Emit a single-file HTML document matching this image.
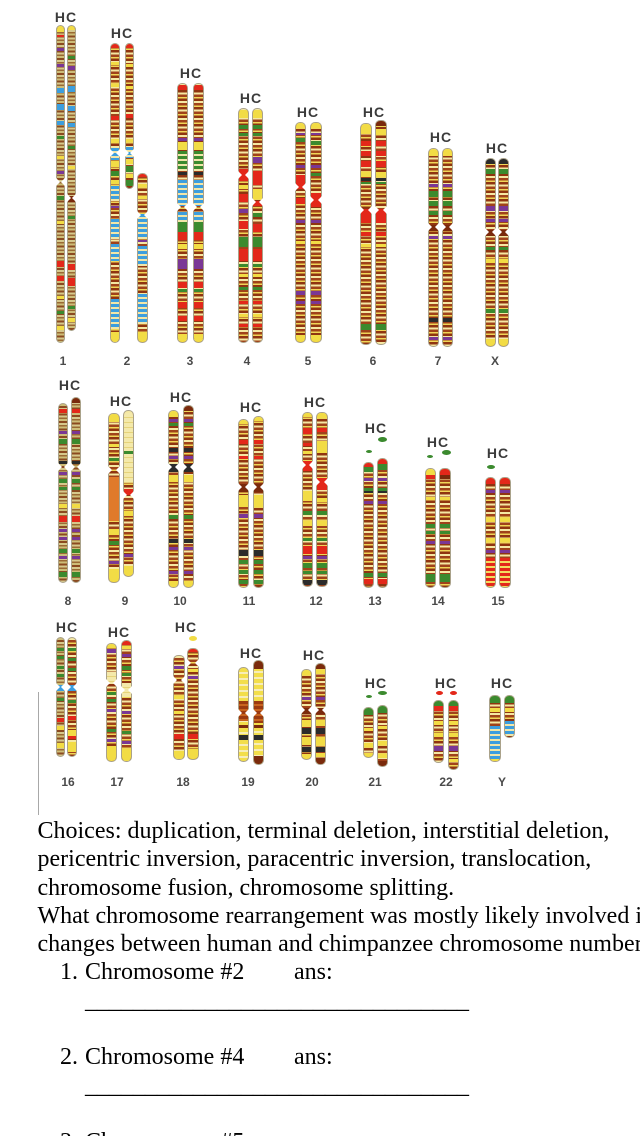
<!DOCTYPE html>
<html><head><meta charset="utf-8">
<style>
html{overflow:hidden;width:640px;height:1136px}
body{margin:0;width:640px;height:1136px;overflow:hidden;background:#fff;position:relative;font-family:"Liberation Serif",serif}
.c{position:absolute;box-sizing:border-box;border:1px solid #aaa28a;border-radius:5px;overflow:hidden;background:repeating-linear-gradient(180deg,#f5e8a2 0 2px,#a0421a 2px 4.5px,#f0d658 4.5px 6px,#8f3410 6px 8.5px)}
.c.k{background:repeating-linear-gradient(180deg,#cdbd78 0 2px,#8b4a20 2px 4px,#d6c88c 4px 6px,#9a6a34 6px 7.5px)}
.c.yb{background:repeating-linear-gradient(180deg,#f3de4a 0 4px,#f7edb8 4px 6px)}
.c i{position:absolute;left:0;right:0;display:block}
.Y{background:#f2dc45}.R{background:#e3281a}.G{background:#3b8a2e}.V{background:#7a3795}
.L{background:#3c9ede}.K{background:#2b2b2b}.O{background:#e07a2a}.D{background:#7a2a0c}
.Lb{background:repeating-linear-gradient(180deg,#3c9ede 0 3px,#f1e6a8 3px 5px)}
.Rb{background:repeating-linear-gradient(180deg,#e3281a 0 3px,#f3dd60 3px 5px)}
.Gb{background:repeating-linear-gradient(180deg,#3b8a2e 0 3px,#f1e6a8 3px 5px)}
.Pb{background:repeating-linear-gradient(180deg,#f4e9aa 0 4px,#e6d37a 4px 5px)}
.Bb{background:repeating-linear-gradient(180deg,#9b3a10 0 3px,#c8641e 3px 5px)}
.n{position:absolute;height:0;border-left:4px solid #fff;border-right:4px solid #fff;border-top:4px solid transparent;border-bottom:4px solid transparent}
.s{position:absolute;border-radius:50%}
.h{position:absolute;width:40px;text-align:center;font:bold 14px/16px "Liberation Sans",sans-serif;color:#3b3b3b;letter-spacing:1px}
.m{position:absolute;width:30px;text-align:center;font:bold 12px/14px "Liberation Sans",sans-serif;color:#4a4a4a}
.txt{position:absolute;left:0;top:817px;width:640px;height:319px;overflow:hidden;font-size:24px;line-height:28.3px;color:#000}
.ln{position:relative;height:28.3px;white-space:nowrap}
.a{position:absolute;top:0}
.vl{position:absolute;left:38px;top:692px;width:1px;height:123px;background:#a8a8a8}
</style></head><body>

<!-- Row 1 -->
<div class="c k" style="left:56px;top:25px;width:9px;height:318px">
<i class="Y" style="top:0;height:6px"></i><i class="R" style="top:9px;height:2px"></i><i class="V" style="top:22px;height:3px"></i><i class="V" style="top:38px;height:3px"></i><i class="L" style="top:62px;height:5px"></i><i class="L" style="top:78px;height:6px"></i><i class="L" style="top:95px;height:4px"></i><i class="G" style="top:110px;height:3px"></i><i class="Y" style="top:130px;height:3px"></i><i class="V" style="top:145px;height:3px"></i><i class="G" style="top:170px;height:4px"></i><i class="Y" style="top:195px;height:3px"></i><i class="R" style="top:235px;height:6px"></i><i class="R" style="top:250px;height:5px"></i><i class="Y" style="top:270px;height:3px"></i><i class="G" style="top:285px;height:3px"></i><i class="Y" style="top:300px;height:4px"></i>
</div>
<div class="c k" style="left:67px;top:25px;width:9px;height:306px">
<i class="Y" style="top:0;height:4px"></i><i class="G" style="top:30px;height:3px"></i><i class="V" style="top:40px;height:4px"></i><i class="L" style="top:60px;height:6px"></i><i class="L" style="top:80px;height:5px"></i><i class="L" style="top:97px;height:4px"></i><i class="G" style="top:120px;height:3px"></i><i class="Y" style="top:140px;height:3px"></i><i class="D" style="top:170px;height:6px"></i><i class="G" style="top:190px;height:3px"></i><i class="R" style="top:238px;height:6px"></i><i class="R" style="top:252px;height:8px"></i><i class="G" style="top:280px;height:3px"></i><i class="Y" style="top:292px;height:4px"></i>
</div>

<div class="c" style="left:110px;top:43px;width:10px;height:300px">
<i class="R" style="top:0;height:4px"></i><i class="Y" style="top:18px;height:3px"></i><i class="Y" style="top:40px;height:3px"></i><i class="R" style="top:72px;height:4px"></i><i class="Y" style="top:95px;height:4px"></i><i class="Lb" style="top:104px;height:12px"></i><i class="Y" style="top:117px;height:6px"></i><i class="G" style="top:127px;height:5px"></i><i class="Y" style="top:136px;height:4px"></i><i class="Lb" style="top:142px;height:15px"></i><i class="V" style="top:162px;height:2px"></i><i class="Lb" style="top:175px;height:20px"></i><i class="Lb" style="top:200px;height:17px"></i><i class="Lb" style="top:255px;height:30px"></i><i class="Y" style="top:288px;height:12px"></i>
</div>
<div class="c" style="left:125px;top:43px;width:9px;height:146px">
<i class="R" style="top:0;height:4px"></i><i class="Y" style="top:20px;height:3px"></i><i class="Y" style="top:42px;height:3px"></i><i class="R" style="top:70px;height:4px"></i><i class="Y" style="top:95px;height:3px"></i><i class="Lb" style="top:103px;height:11px"></i><i class="Y" style="top:116px;height:4px"></i><i class="G" style="top:122px;height:6px"></i><i class="Y" style="top:130px;height:4px"></i><i class="G" style="top:136px;height:6px"></i>
</div>
<div class="c" style="left:137px;top:173px;width:11px;height:170px">
<i class="R" style="top:0;height:3px"></i><i class="Y" style="top:10px;height:3px"></i><i class="Y" style="top:22px;height:3px"></i><i class="Lb" style="top:40px;height:25px"></i><i class="V" style="top:66px;height:2px"></i><i class="Lb" style="top:72px;height:20px"></i><i class="Lb" style="top:120px;height:30px"></i><i class="Y" style="top:158px;height:12px"></i>
</div>

<div class="c" style="left:177px;top:83px;width:11px;height:260px">
<i class="R" style="top:1px;height:5px"></i><i class="V" style="top:54px;height:3px"></i><i class="Y" style="top:58px;height:8px"></i><i class="Gb" style="top:67px;height:20px"></i><i class="K" style="top:88px;height:3px"></i><i class="Lb" style="top:96px;height:26px"></i><i class="Lb" style="top:128px;height:10px"></i><i class="G" style="top:138px;height:10px"></i><i class="R" style="top:148px;height:8px"></i><i class="Y" style="top:160px;height:5px"></i><i class="V" style="top:175px;height:10px"></i><i class="R" style="top:198px;height:6px"></i><i class="G" style="top:205px;height:3px"></i><i class="R" style="top:218px;height:6px"></i><i class="R" style="top:232px;height:5px"></i><i class="Y" style="top:250px;height:10px"></i>
</div>
<div class="c" style="left:193px;top:83px;width:11px;height:260px">
<i class="R" style="top:1px;height:5px"></i><i class="V" style="top:54px;height:3px"></i><i class="Y" style="top:58px;height:8px"></i><i class="Gb" style="top:67px;height:20px"></i><i class="K" style="top:88px;height:3px"></i><i class="Lb" style="top:96px;height:26px"></i><i class="Lb" style="top:128px;height:10px"></i><i class="G" style="top:138px;height:10px"></i><i class="R" style="top:148px;height:8px"></i><i class="Y" style="top:160px;height:5px"></i><i class="V" style="top:175px;height:10px"></i><i class="R" style="top:198px;height:6px"></i><i class="G" style="top:205px;height:3px"></i><i class="R" style="top:218px;height:6px"></i><i class="R" style="top:232px;height:5px"></i><i class="Y" style="top:250px;height:10px"></i>
</div>

<div class="c" style="left:238px;top:108px;width:11px;height:235px">
<i class="Y" style="top:1px;height:8px"></i><i class="G" style="top:16px;height:4px"></i><i class="G" style="top:24px;height:3px"></i><i class="R" style="top:60px;height:12px"></i><i class="Y" style="top:76px;height:4px"></i><i class="R" style="top:85px;height:8px"></i><i class="V" style="top:100px;height:4px"></i><i class="R" style="top:112px;height:8px"></i><i class="G" style="top:128px;height:10px"></i><i class="R" style="top:140px;height:12px"></i><i class="G" style="top:155px;height:3px"></i><i class="Y" style="top:165px;height:3px"></i><i class="G" style="top:178px;height:3px"></i><i class="R" style="top:192px;height:3px"></i><i class="Y" style="top:205px;height:3px"></i><i class="R" style="top:215px;height:3px"></i>
</div>
<div class="c" style="left:252px;top:108px;width:11px;height:235px">
<i class="Y" style="top:1px;height:8px"></i><i class="G" style="top:16px;height:4px"></i><i class="G" style="top:24px;height:3px"></i><i class="V" style="top:48px;height:6px"></i><i class="R" style="top:62px;height:14px"></i><i class="Y" style="top:80px;height:10px"></i><i class="R" style="top:92px;height:5px"></i><i class="G" style="top:104px;height:4px"></i><i class="R" style="top:115px;height:8px"></i><i class="G" style="top:128px;height:10px"></i><i class="R" style="top:140px;height:12px"></i><i class="G" style="top:155px;height:3px"></i><i class="Y" style="top:165px;height:3px"></i><i class="G" style="top:178px;height:3px"></i><i class="R" style="top:192px;height:3px"></i><i class="Y" style="top:205px;height:3px"></i><i class="R" style="top:215px;height:3px"></i>
</div>

<div class="c" style="left:295px;top:122px;width:11px;height:221px">
<i class="Y" style="top:0;height:5px"></i><i class="V" style="top:10px;height:2px"></i><i class="G" style="top:15px;height:4px"></i><i class="V" style="top:42px;height:3px"></i><i class="R" style="top:52px;height:14px"></i><i class="R" style="top:75px;height:6px"></i><i class="V" style="top:97px;height:3px"></i><i class="Y" style="top:118px;height:3px"></i><i class="V" style="top:168px;height:4px"></i><i class="V" style="top:178px;height:3px"></i><i class="Y" style="top:212px;height:9px"></i>
</div>
<div class="c" style="left:310px;top:122px;width:12px;height:221px">
<i class="Y" style="top:0;height:5px"></i><i class="V" style="top:10px;height:2px"></i><i class="G" style="top:18px;height:4px"></i><i class="V" style="top:42px;height:3px"></i><i class="G" style="top:50px;height:3px"></i><i class="R" style="top:70px;height:14px"></i><i class="V" style="top:97px;height:3px"></i><i class="Y" style="top:118px;height:3px"></i><i class="V" style="top:168px;height:4px"></i><i class="V" style="top:178px;height:3px"></i><i class="Y" style="top:212px;height:9px"></i>
</div>

<div class="c" style="left:360px;top:123px;width:12px;height:222px">
<i class="Y" style="top:0;height:10px"></i><i class="R" style="top:17px;height:5px"></i><i class="R" style="top:27px;height:5px"></i><i class="R" style="top:37px;height:6px"></i><i class="Y" style="top:48px;height:5px"></i><i class="K" style="top:54px;height:3px"></i><i class="G" style="top:58px;height:2px"></i><i class="R" style="top:85px;height:14px"></i><i class="R" style="top:108px;height:4px"></i><i class="Y" style="top:120px;height:3px"></i><i class="G" style="top:200px;height:6px"></i>
</div>
<div class="c" style="left:375px;top:120px;width:12px;height:225px">
<i class="D" style="top:0;height:5px"></i><i class="Y" style="top:8px;height:6px"></i><i class="R" style="top:20px;height:5px"></i><i class="R" style="top:30px;height:5px"></i><i class="R" style="top:40px;height:6px"></i><i class="Y" style="top:51px;height:5px"></i><i class="K" style="top:57px;height:3px"></i><i class="G" style="top:61px;height:2px"></i><i class="R" style="top:88px;height:14px"></i><i class="R" style="top:111px;height:4px"></i><i class="Y" style="top:123px;height:3px"></i><i class="G" style="top:203px;height:6px"></i>
</div>

<div class="c" style="left:428px;top:148px;width:11px;height:199px">
<i class="Y" style="top:0;height:7px"></i><i class="V" style="top:35px;height:3px"></i><i class="G" style="top:42px;height:6px"></i><i class="G" style="top:52px;height:5px"></i><i class="G" style="top:62px;height:4px"></i><i class="D" style="top:76px;height:6px"></i><i class="V" style="top:87px;height:3px"></i><i class="K" style="top:169px;height:4px"></i><i class="V" style="top:188px;height:3px"></i>
</div>
<div class="c" style="left:442px;top:148px;width:11px;height:199px">
<i class="Y" style="top:0;height:7px"></i><i class="V" style="top:35px;height:3px"></i><i class="G" style="top:42px;height:6px"></i><i class="G" style="top:52px;height:5px"></i><i class="G" style="top:62px;height:4px"></i><i class="D" style="top:76px;height:6px"></i><i class="V" style="top:87px;height:3px"></i><i class="K" style="top:169px;height:4px"></i><i class="V" style="top:188px;height:3px"></i>
</div>

<div class="c" style="left:485px;top:158px;width:11px;height:189px">
<i class="K" style="top:0;height:5px"></i><i class="G" style="top:10px;height:5px"></i><i class="V" style="top:47px;height:5px"></i><i class="V" style="top:60px;height:3px"></i><i class="D" style="top:71px;height:6px"></i><i class="G" style="top:88px;height:3px"></i><i class="Y" style="top:100px;height:4px"></i><i class="G" style="top:150px;height:4px"></i><i class="Y" style="top:180px;height:9px"></i>
</div>
<div class="c" style="left:498px;top:158px;width:11px;height:189px">
<i class="K" style="top:0;height:5px"></i><i class="G" style="top:10px;height:5px"></i><i class="V" style="top:47px;height:5px"></i><i class="V" style="top:60px;height:3px"></i><i class="D" style="top:71px;height:6px"></i><i class="G" style="top:88px;height:3px"></i><i class="Y" style="top:100px;height:4px"></i><i class="G" style="top:150px;height:4px"></i><i class="Y" style="top:180px;height:9px"></i>
</div>

<!-- Row 2 -->
<div class="c k" style="left:58px;top:403px;width:10px;height:180px">
<i class="R" style="top:5px;height:4px"></i><i class="V" style="top:27px;height:3px"></i><i class="G" style="top:35px;height:5px"></i><i class="K" style="top:57px;height:3px"></i><i class="V" style="top:68px;height:3px"></i><i class="G" style="top:75px;height:4px"></i><i class="G" style="top:83px;height:3px"></i><i class="Y" style="top:100px;height:4px"></i><i class="R" style="top:112px;height:6px"></i><i class="V" style="top:125px;height:3px"></i><i class="V" style="top:133px;height:3px"></i><i class="G" style="top:145px;height:4px"></i><i class="V" style="top:152px;height:3px"></i><i class="G" style="top:168px;height:5px"></i>
</div>
<div class="c k" style="left:71px;top:397px;width:10px;height:186px">
<i class="D" style="top:0;height:5px"></i><i class="R" style="top:11px;height:4px"></i><i class="V" style="top:33px;height:3px"></i><i class="G" style="top:41px;height:5px"></i><i class="K" style="top:63px;height:3px"></i><i class="V" style="top:74px;height:3px"></i><i class="G" style="top:81px;height:4px"></i><i class="G" style="top:89px;height:3px"></i><i class="Y" style="top:106px;height:4px"></i><i class="R" style="top:118px;height:6px"></i><i class="V" style="top:131px;height:3px"></i><i class="V" style="top:139px;height:3px"></i><i class="G" style="top:151px;height:4px"></i><i class="V" style="top:158px;height:3px"></i><i class="G" style="top:174px;height:5px"></i>
</div>

<div class="c" style="left:108px;top:413px;width:12px;height:170px">
<i class="Y" style="top:0;height:8px"></i><i class="Y" style="top:30px;height:3px"></i><i class="G" style="top:44px;height:3px"></i><i class="O" style="top:63px;height:44px"></i><i class="Y" style="top:115px;height:6px"></i><i class="G" style="top:127px;height:4px"></i><i class="V" style="top:147px;height:3px"></i><i class="Y" style="top:155px;height:15px"></i>
</div>
<div class="c" style="left:123px;top:410px;width:11px;height:167px">
<i class="Pb" style="top:2px;height:70px"></i><i class="G" style="top:40px;height:3px"></i><i class="R" style="top:78px;height:6px"></i><i class="Y" style="top:100px;height:5px"></i><i class="V" style="top:143px;height:3px"></i><i class="Y" style="top:155px;height:12px"></i>
</div>

<div class="c" style="left:168px;top:410px;width:11px;height:178px">
<i class="Y" style="top:0;height:6px"></i><i class="V" style="top:8px;height:3px"></i><i class="G" style="top:12px;height:3px"></i><i class="K" style="top:37px;height:4px"></i><i class="V" style="top:45px;height:3px"></i><i class="K" style="top:53px;height:8px"></i><i class="Y" style="top:64px;height:7px"></i><i class="G" style="top:104px;height:4px"></i><i class="K" style="top:128px;height:4px"></i><i class="V" style="top:136px;height:3px"></i><i class="V" style="top:160px;height:3px"></i><i class="Y" style="top:170px;height:8px"></i>
</div>
<div class="c" style="left:183px;top:405px;width:11px;height:183px">
<i class="D" style="top:0;height:5px"></i><i class="V" style="top:13px;height:3px"></i><i class="G" style="top:17px;height:3px"></i><i class="K" style="top:42px;height:4px"></i><i class="V" style="top:50px;height:3px"></i><i class="K" style="top:58px;height:8px"></i><i class="Y" style="top:69px;height:7px"></i><i class="G" style="top:109px;height:4px"></i><i class="K" style="top:133px;height:4px"></i><i class="V" style="top:141px;height:3px"></i><i class="V" style="top:165px;height:3px"></i><i class="Y" style="top:175px;height:8px"></i>
</div>

<div class="c" style="left:238px;top:419px;width:11px;height:169px">
<i class="Y" style="top:0;height:4px"></i><i class="R" style="top:20px;height:4px"></i><i class="R" style="top:36px;height:3px"></i><i class="D" style="top:64px;height:8px"></i><i class="Y" style="top:75px;height:12px"></i><i class="V" style="top:94px;height:4px"></i><i class="K" style="top:130px;height:6px"></i><i class="G" style="top:140px;height:4px"></i><i class="G" style="top:150px;height:4px"></i><i class="G" style="top:160px;height:4px"></i>
</div>
<div class="c" style="left:253px;top:416px;width:11px;height:172px">
<i class="Y" style="top:0;height:4px"></i><i class="R" style="top:23px;height:4px"></i><i class="R" style="top:39px;height:3px"></i><i class="D" style="top:67px;height:8px"></i><i class="Y" style="top:78px;height:12px"></i><i class="V" style="top:97px;height:4px"></i><i class="K" style="top:133px;height:6px"></i><i class="G" style="top:143px;height:4px"></i><i class="G" style="top:153px;height:4px"></i><i class="G" style="top:163px;height:4px"></i>
</div>

<div class="c" style="left:302px;top:412px;width:11px;height:175px">
<i class="Y" style="top:0;height:4px"></i><i class="R" style="top:15px;height:6px"></i><i class="R" style="top:30px;height:3px"></i><i class="Y" style="top:38px;height:3px"></i><i class="R" style="top:48px;height:10px"></i><i class="Y" style="top:78px;height:10px"></i><i class="G" style="top:98px;height:4px"></i><i class="Y" style="top:108px;height:5px"></i><i class="G" style="top:125px;height:3px"></i><i class="R" style="top:133px;height:8px"></i><i class="V" style="top:143px;height:3px"></i><i class="G" style="top:150px;height:5px"></i><i class="G" style="top:158px;height:3px"></i><i class="K" style="top:167px;height:5px"></i>
</div>
<div class="c" style="left:316px;top:412px;width:12px;height:175px">
<i class="Y" style="top:0;height:5px"></i><i class="R" style="top:15px;height:4px"></i><i class="Y" style="top:28px;height:12px"></i><i class="R" style="top:65px;height:12px"></i><i class="Y" style="top:85px;height:4px"></i><i class="G" style="top:98px;height:4px"></i><i class="Y" style="top:108px;height:5px"></i><i class="G" style="top:125px;height:3px"></i><i class="R" style="top:133px;height:8px"></i><i class="V" style="top:143px;height:3px"></i><i class="G" style="top:150px;height:5px"></i><i class="G" style="top:158px;height:3px"></i><i class="K" style="top:167px;height:5px"></i>
</div>

<div class="c" style="left:363px;top:462px;width:11px;height:126px">
<i class="R" style="top:0;height:4px"></i><i class="G" style="top:4px;height:5px"></i><i class="V" style="top:15px;height:3px"></i><i class="G" style="top:25px;height:3px"></i><i class="K" style="top:28px;height:2px"></i><i class="V" style="top:38px;height:3px"></i><i class="G" style="top:110px;height:4px"></i><i class="R" style="top:116px;height:5px"></i>
</div>
<div class="c" style="left:377px;top:458px;width:11px;height:130px">
<i class="R" style="top:0;height:5px"></i><i class="G" style="top:5px;height:6px"></i><i class="V" style="top:19px;height:3px"></i><i class="G" style="top:29px;height:3px"></i><i class="K" style="top:32px;height:2px"></i><i class="V" style="top:42px;height:3px"></i><i class="G" style="top:114px;height:4px"></i><i class="R" style="top:120px;height:5px"></i>
</div>
<div class="s G" style="left:366px;top:450px;width:6px;height:3px"></div>
<div class="s G" style="left:378px;top:437px;width:9px;height:5px"></div>

<div class="c" style="left:425px;top:468px;width:11px;height:120px">
<i class="Y" style="top:0;height:6px"></i><i class="R" style="top:6px;height:4px"></i><i class="Y" style="top:28px;height:3px"></i><i class="G" style="top:55px;height:4px"></i><i class="G" style="top:62px;height:3px"></i><i class="V" style="top:72px;height:3px"></i><i class="G" style="top:105px;height:8px"></i>
</div>
<div class="c" style="left:439px;top:468px;width:12px;height:120px">
<i class="R" style="top:0;height:6px"></i><i class="D" style="top:6px;height:4px"></i><i class="Y" style="top:28px;height:3px"></i><i class="G" style="top:55px;height:4px"></i><i class="G" style="top:62px;height:3px"></i><i class="V" style="top:72px;height:3px"></i><i class="G" style="top:105px;height:8px"></i>
</div>
<div class="s G" style="left:427px;top:455px;width:6px;height:3px"></div>
<div class="s G" style="left:442px;top:450px;width:9px;height:5px"></div>

<div class="c" style="left:485px;top:477px;width:11px;height:111px">
<i class="R" style="top:0;height:6px"></i><i class="V" style="top:12px;height:3px"></i><i class="Y" style="top:40px;height:4px"></i><i class="Y" style="top:60px;height:4px"></i><i class="V" style="top:72px;height:3px"></i><i class="Rb" style="top:80px;height:31px"></i>
</div>
<div class="c" style="left:499px;top:477px;width:12px;height:111px">
<i class="R" style="top:0;height:6px"></i><i class="V" style="top:12px;height:3px"></i><i class="Y" style="top:40px;height:4px"></i><i class="Y" style="top:60px;height:4px"></i><i class="V" style="top:72px;height:3px"></i><i class="Rb" style="top:80px;height:31px"></i>
</div>
<div class="s G" style="left:487px;top:465px;width:8px;height:4px"></div>

<!-- Row 3 -->
<div class="c k" style="left:56px;top:637px;width:9px;height:120px">
<i class="G" style="top:10px;height:3px"></i><i class="G" style="top:18px;height:3px"></i><i class="G" style="top:28px;height:3px"></i><i class="G" style="top:36px;height:3px"></i><i class="L" style="top:47px;height:6px"></i><i class="G" style="top:60px;height:3px"></i><i class="R" style="top:80px;height:4px"></i><i class="Y" style="top:88px;height:4px"></i><i class="Y" style="top:105px;height:5px"></i>
</div>
<div class="c" style="left:67px;top:637px;width:10px;height:120px">
<i class="G" style="top:10px;height:3px"></i><i class="G" style="top:20px;height:3px"></i><i class="G" style="top:30px;height:3px"></i><i class="L" style="top:47px;height:6px"></i><i class="G" style="top:62px;height:3px"></i><i class="R" style="top:78px;height:4px"></i><i class="Y" style="top:92px;height:6px"></i><i class="R" style="top:98px;height:3px"></i><i class="Y" style="top:104px;height:10px"></i>
</div>

<div class="c" style="left:106px;top:643px;width:11px;height:119px">
<i class="Y" style="top:0;height:4px"></i><i class="V" style="top:5px;height:4px"></i><i class="Pb" style="top:28px;height:12px"></i><i class="G" style="top:48px;height:3px"></i><i class="G" style="top:55px;height:3px"></i><i class="V" style="top:65px;height:3px"></i><i class="G" style="top:85px;height:3px"></i><i class="V" style="top:95px;height:3px"></i><i class="Y" style="top:102px;height:17px"></i>
</div>
<div class="c" style="left:121px;top:640px;width:11px;height:122px">
<i class="R" style="top:0;height:4px"></i><i class="Y" style="top:5px;height:3px"></i><i class="V" style="top:13px;height:3px"></i><i class="G" style="top:25px;height:4px"></i><i class="G" style="top:32px;height:3px"></i><i class="Pb" style="top:42px;height:14px"></i><i class="V" style="top:70px;height:3px"></i><i class="G" style="top:90px;height:3px"></i><i class="V" style="top:100px;height:3px"></i><i class="Y" style="top:108px;height:14px"></i>
</div>

<div class="c" style="left:173px;top:655px;width:12px;height:105px">
<i class="V" style="top:10px;height:3px"></i><i class="Y" style="top:40px;height:3px"></i><i class="Y" style="top:55px;height:3px"></i><i class="R" style="top:78px;height:5px"></i><i class="Y" style="top:95px;height:10px"></i>
</div>
<div class="c" style="left:187px;top:648px;width:12px;height:112px">
<i class="R" style="top:0;height:3px"></i><i class="Y" style="top:20px;height:3px"></i><i class="V" style="top:27px;height:3px"></i><i class="R" style="top:85px;height:5px"></i><i class="Y" style="top:100px;height:12px"></i>
</div>
<div class="s Y" style="left:189px;top:636px;width:8px;height:5px"></div>

<div class="c yb" style="left:238px;top:667px;width:11px;height:95px">
<i class="Bb" style="top:33px;height:20px"></i><i class="D" style="top:57px;height:3px"></i><i class="K" style="top:67px;height:5px"></i>
</div>
<div class="c yb" style="left:253px;top:660px;width:11px;height:105px">
<i class="D" style="top:0;height:8px"></i><i class="Bb" style="top:40px;height:22px"></i><i class="D" style="top:64px;height:3px"></i><i class="K" style="top:74px;height:5px"></i><i class="D" style="top:95px;height:10px"></i>
</div>

<div class="c" style="left:301px;top:669px;width:11px;height:91px">
<i class="Y" style="top:0;height:5px"></i><i class="V" style="top:27px;height:3px"></i><i class="D" style="top:38px;height:6px"></i><i class="Y" style="top:50px;height:6px"></i><i class="K" style="top:58px;height:6px"></i><i class="Y" style="top:67px;height:8px"></i><i class="K" style="top:77px;height:5px"></i><i class="Y" style="top:84px;height:7px"></i>
</div>
<div class="c" style="left:315px;top:663px;width:11px;height:102px">
<i class="D" style="top:0;height:5px"></i><i class="Y" style="top:6px;height:4px"></i><i class="V" style="top:33px;height:3px"></i><i class="D" style="top:44px;height:6px"></i><i class="Y" style="top:56px;height:6px"></i><i class="K" style="top:64px;height:6px"></i><i class="Y" style="top:73px;height:8px"></i><i class="K" style="top:83px;height:5px"></i><i class="Y" style="top:89px;height:4px"></i><i class="D" style="top:94px;height:8px"></i>
</div>

<div class="c" style="left:363px;top:707px;width:11px;height:51px">
<i class="G" style="top:0;height:7px"></i><i class="Y" style="top:20px;height:3px"></i><i class="Y" style="top:35px;height:4px"></i><i class="Y" style="top:45px;height:6px"></i>
</div>
<div class="c" style="left:377px;top:705px;width:11px;height:62px">
<i class="G" style="top:0;height:7px"></i><i class="Y" style="top:20px;height:3px"></i><i class="Y" style="top:35px;height:4px"></i><i class="Y" style="top:48px;height:4px"></i><i class="D" style="top:55px;height:7px"></i>
</div>
<div class="s G" style="left:366px;top:695px;width:6px;height:3px"></div>
<div class="s G" style="left:378px;top:691px;width:9px;height:4px"></div>

<div class="c" style="left:433px;top:700px;width:11px;height:63px">
<i class="G" style="top:0;height:5px"></i><i class="R" style="top:5px;height:5px"></i><i class="Y" style="top:20px;height:4px"></i><i class="Y" style="top:32px;height:4px"></i><i class="V" style="top:45px;height:5px"></i>
</div>
<div class="c" style="left:448px;top:700px;width:11px;height:70px">
<i class="G" style="top:0;height:5px"></i><i class="R" style="top:5px;height:5px"></i><i class="Y" style="top:20px;height:4px"></i><i class="Y" style="top:32px;height:4px"></i><i class="V" style="top:45px;height:5px"></i><i class="Y" style="top:58px;height:3px"></i>
</div>
<div class="s R" style="left:436px;top:691px;width:7px;height:4px"></div>
<div class="s R" style="left:450px;top:691px;width:7px;height:4px"></div>

<div class="c" style="left:489px;top:695px;width:12px;height:67px">
<i class="G" style="top:0;height:7px"></i><i class="Y" style="top:12px;height:4px"></i><i class="Lb" style="top:30px;height:33px"></i><i class="Y" style="top:63px;height:4px"></i>
</div>
<div class="c" style="left:504px;top:695px;width:11px;height:43px">
<i class="G" style="top:0;height:7px"></i><i class="Y" style="top:12px;height:4px"></i><i class="Lb" style="top:25px;height:15px"></i>
</div>

<!-- centromere notches -->
<div class="n" style="left:56px;top:178px;width:1px"></div>
<div class="n" style="left:67px;top:194px;width:1px"></div>
<div class="n" style="left:110px;top:149px;width:2px"></div>
<div class="n" style="left:125px;top:149px;width:1px"></div>
<div class="n" style="left:137px;top:211px;width:3px"></div>
<div class="n" style="left:177px;top:203px;width:3px"></div>
<div class="n" style="left:193px;top:203px;width:3px"></div>
<div class="n" style="left:238px;top:171px;width:3px"></div>
<div class="n" style="left:252px;top:198px;width:3px"></div>
<div class="n" style="left:295px;top:183px;width:3px"></div>
<div class="n" style="left:310px;top:196px;width:4px"></div>
<div class="n" style="left:360px;top:206px;width:4px"></div>
<div class="n" style="left:375px;top:206px;width:4px"></div>
<div class="n" style="left:428px;top:223px;width:3px"></div>
<div class="n" style="left:442px;top:223px;width:3px"></div>
<div class="n" style="left:485px;top:228px;width:3px"></div>
<div class="n" style="left:498px;top:228px;width:3px"></div>
<div class="n" style="left:58px;top:463px;width:2px"></div>
<div class="n" style="left:71px;top:463px;width:2px"></div>
<div class="n" style="left:108px;top:466px;width:4px"></div>
<div class="n" style="left:123px;top:491px;width:3px"></div>
<div class="n" style="left:168px;top:463px;width:3px"></div>
<div class="n" style="left:183px;top:463px;width:3px"></div>
<div class="n" style="left:238px;top:483px;width:3px"></div>
<div class="n" style="left:253px;top:483px;width:3px"></div>
<div class="n" style="left:302px;top:461px;width:3px"></div>
<div class="n" style="left:316px;top:478px;width:4px"></div>
<div class="n" style="left:56px;top:683px;width:1px"></div>
<div class="n" style="left:67px;top:683px;width:2px"></div>
<div class="n" style="left:106px;top:679px;width:3px"></div>
<div class="n" style="left:121px;top:686px;width:3px"></div>
<div class="n" style="left:173px;top:676px;width:4px"></div>
<div class="n" style="left:187px;top:659px;width:4px"></div>
<div class="n" style="left:238px;top:709px;width:3px"></div>
<div class="n" style="left:253px;top:709px;width:3px"></div>
<div class="n" style="left:301px;top:706px;width:3px"></div>
<div class="n" style="left:315px;top:706px;width:3px"></div>

<!-- HC labels -->
<div class="h" style="left:46px;top:9px">HC</div>
<div class="h" style="left:102px;top:25px">HC</div>
<div class="h" style="left:171px;top:65px">HC</div>
<div class="h" style="left:231px;top:90px">HC</div>
<div class="h" style="left:288px;top:104px">HC</div>
<div class="h" style="left:354px;top:104px">HC</div>
<div class="h" style="left:421px;top:129px">HC</div>
<div class="h" style="left:477px;top:140px">HC</div>
<div class="h" style="left:50px;top:377px">HC</div>
<div class="h" style="left:101px;top:393px">HC</div>
<div class="h" style="left:161px;top:389px">HC</div>
<div class="h" style="left:231px;top:399px">HC</div>
<div class="h" style="left:295px;top:394px">HC</div>
<div class="h" style="left:356px;top:420px">HC</div>
<div class="h" style="left:418px;top:434px">HC</div>
<div class="h" style="left:478px;top:445px">HC</div>
<div class="h" style="left:47px;top:619px">HC</div>
<div class="h" style="left:99px;top:624px">HC</div>
<div class="h" style="left:166px;top:619px">HC</div>
<div class="h" style="left:231px;top:645px">HC</div>
<div class="h" style="left:294px;top:647px">HC</div>
<div class="h" style="left:356px;top:675px">HC</div>
<div class="h" style="left:426px;top:675px">HC</div>
<div class="h" style="left:482px;top:675px">HC</div>

<!-- numbers -->
<div class="m" style="left:48px;top:354px">1</div>
<div class="m" style="left:112px;top:354px">2</div>
<div class="m" style="left:175px;top:354px">3</div>
<div class="m" style="left:232px;top:354px">4</div>
<div class="m" style="left:293px;top:354px">5</div>
<div class="m" style="left:358px;top:354px">6</div>
<div class="m" style="left:423px;top:354px">7</div>
<div class="m" style="left:480px;top:354px">X</div>
<div class="m" style="left:53px;top:594px">8</div>
<div class="m" style="left:110px;top:594px">9</div>
<div class="m" style="left:165px;top:594px">10</div>
<div class="m" style="left:234px;top:594px">11</div>
<div class="m" style="left:301px;top:594px">12</div>
<div class="m" style="left:360px;top:594px">13</div>
<div class="m" style="left:423px;top:594px">14</div>
<div class="m" style="left:483px;top:594px">15</div>
<div class="m" style="left:53px;top:775px">16</div>
<div class="m" style="left:102px;top:775px">17</div>
<div class="m" style="left:168px;top:775px">18</div>
<div class="m" style="left:233px;top:775px">19</div>
<div class="m" style="left:297px;top:775px">20</div>
<div class="m" style="left:360px;top:775px">21</div>
<div class="m" style="left:431px;top:775px">22</div>
<div class="m" style="left:487px;top:775px">Y</div>

<div class="vl"></div>

<!-- text -->
<div class="txt">
<div class="ln"><span class="a" style="left:37.5px">Choices: duplication, terminal deletion, interstitial deletion,</span></div>
<div class="ln"><span class="a" style="left:37.5px">pericentric inversion, paracentric inversion, translocation,</span></div>
<div class="ln"><span class="a" style="left:37.5px">chromosome fusion, chromosome splitting.</span></div>
<div class="ln"><span class="a" style="left:37.5px">What chromosome rearrangement was mostly likely involved in the</span></div>
<div class="ln"><span class="a" style="left:37.5px">changes between human and chimpanzee chromosome numbers</span></div>
<div class="ln"><span class="a" style="left:60px">1.</span><span class="a" style="left:85px">Chromosome #2</span><span class="a" style="left:294px">ans:</span></div>
<div class="ln"><span class="a" style="left:85px">________________________________</span></div>
<div class="ln"></div>
<div class="ln"><span class="a" style="left:60px">2.</span><span class="a" style="left:85px">Chromosome #4</span><span class="a" style="left:294px">ans:</span></div>
<div class="ln"><span class="a" style="left:85px">________________________________</span></div>
<div class="ln"></div>
<div class="ln"><span class="a" style="left:60px">3.</span><span class="a" style="left:85px">Chromosome #5</span><span class="a" style="left:294px">ans:</span></div>
</div>

</body></html>
